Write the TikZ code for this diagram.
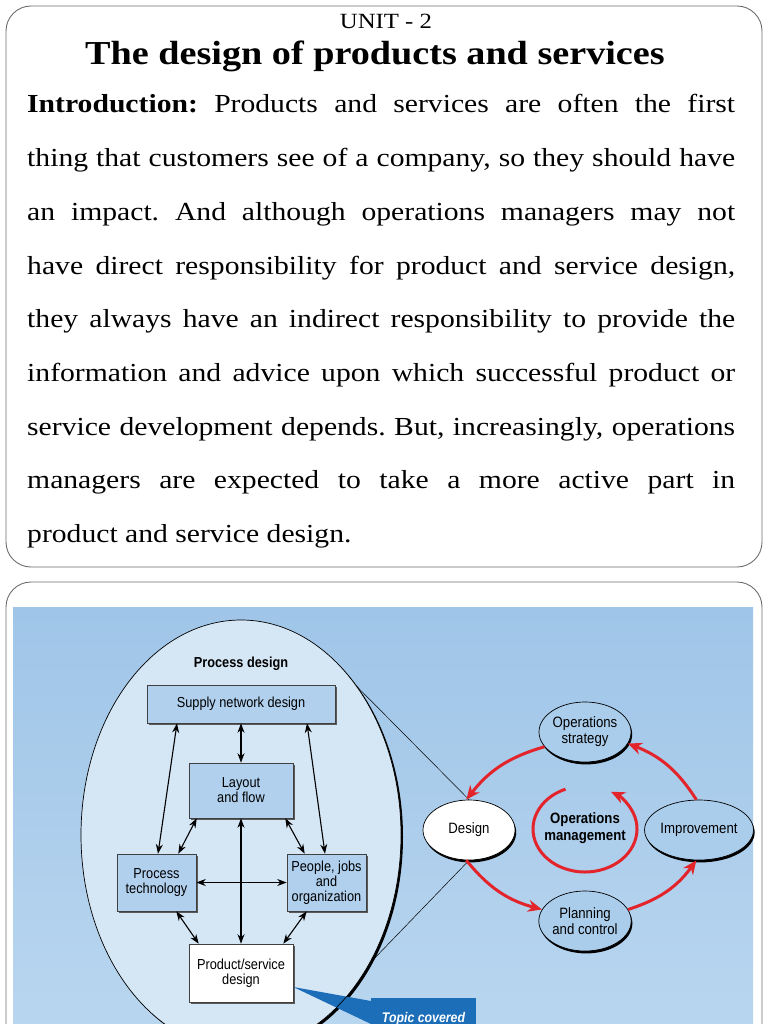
\documentclass[tikz,border=0pt]{standalone}
\usepackage{fontspec}
\setmainfont{Liberation Serif}[FakeStretch=1.14]
\newfontfamily\diag{Liberation Sans}[FakeStretch=0.88]
\usetikzlibrary{shapes.geometric,arrows.meta,calc,shadows}
\definecolor{bgtop}{HTML}{9FC5E8}
\definecolor{bgbot}{HTML}{B9D6EF}
\definecolor{ovalc}{HTML}{D5E6F5}
\definecolor{boxc}{HTML}{B0D0EE}
\definecolor{cycc}{HTML}{ABCDEC}
\definecolor{redc}{HTML}{E3242B}
\definecolor{callc}{HTML}{1D6EB9}
\definecolor{framec}{HTML}{6E6E6E}
\frenchspacing
\tikzset{
  frame/.style={draw=framec, line width=0.9pt, rounded corners=25pt},
  bodyline/.style={anchor=base west, inner sep=0pt, font=\fontsize{26}{30}\selectfont},
  pbox/.style={draw=black!75, line width=0.6pt, fill=boxc, inner sep=0pt, align=center,
    font=\diag\fontsize{14.5}{15}\selectfont,
    drop shadow={shadow xshift=1.8pt, shadow yshift=-1.8pt, fill=black!65, opacity=1}},
  darr/.style={{Stealth[length=9.5pt,width=7pt]}-{Stealth[length=9.5pt,width=7pt]}, line width=1.1pt},
  cyc/.style={ellipse, draw, line width=0.7pt, fill=cycc, minimum width=92pt, minimum height=60pt,
    inner sep=0pt, align=center, font=\diag\fontsize{15}{16}\selectfont,
    drop shadow={shadow xshift=1.2pt, shadow yshift=-2.4pt, fill=black, opacity=1}},
  redarr/.style={draw=redc, line width=3pt, -{Stealth[length=14pt,width=12pt]}, color=redc},
}
\begin{document}
\begin{tikzpicture}[x=1pt,y=1pt]
\clip (0,0) rectangle (768,-1024);
\fill[white] (0,0) rectangle (768,-1024);
% frames
\draw[frame] (6,-6) rectangle (762,-567);
\draw[frame] (6,-582) rectangle (762,-1100);
% heading
\node[anchor=base, inner sep=0pt, font=\fontsize{21.7}{24}\selectfont] (unit) at (386,-29) {UNIT - 2};
\node[anchor=base, inner sep=0pt, font=\fontsize{33.5}{40}\selectfont\bfseries] (title) at (375,-65) {The design of products and services};
% body
\node[bodyline] (l1) at (27,-113) {\makebox[708pt][s]{\textbf{Introduction:} Products and services are often the first}};
\node[bodyline] (l2) at (27,-166.7) {\makebox[708pt][s]{thing that customers see of a company, so they should have}};
\node[bodyline] (l3) at (27,-220.4) {\makebox[708pt][s]{an impact. And although operations managers may not}};
\node[bodyline] (l4) at (27,-274.1) {\makebox[708pt][s]{have direct responsibility for product and service design,}};
\node[bodyline] (l5) at (27,-327.8) {\makebox[708pt][s]{they always have an indirect responsibility to provide the}};
\node[bodyline] (l6) at (27,-381.5) {\makebox[708pt][s]{information and advice upon which successful product or}};
\node[bodyline] (l7) at (27,-435.2) {\makebox[708pt][s]{service development depends. But, increasingly, operations}};
\node[bodyline] (l8) at (27,-488.9) {\makebox[708pt][s]{managers are expected to take a more active part in}};
\node[bodyline] (l9) at (27,-542.6) {product and service design.};
% diagram background
\shade[top color=bgtop, bottom color=bgbot] (13,-607) rectangle (753,-1030);
% oval
\fill[black] (243,-837) ellipse [x radius=160pt, y radius=215pt];
\node[ellipse, fill=ovalc, minimum width=320pt, minimum height=430pt, inner sep=0pt] (oval) at (241,-835) {};
\node[font=\diag\bfseries\fontsize{14.5}{15}\selectfont] (pdes) at (241,-664) {Process design};
% boxes
\node[pbox, minimum width=188pt, minimum height=38pt] (sup) at (241,-704) {Supply network design};
\node[pbox, minimum width=104pt, minimum height=55pt] (lay) at (241,-790.5) {Layout\\and flow};
\node[pbox, minimum width=79pt, minimum height=57pt] (pt) at (156.5,-882.5) {Process\\technology};
\node[pbox, minimum width=79pt, minimum height=57pt] (pj) at (326.5,-882.5) {People, jobs\\and\\organization};
\node[pbox, fill=white, minimum width=104pt, minimum height=58pt] (pd) at (241,-973) {Product/service\\design};
% box arrows
\draw[darr] (sup.south) -- (lay.north);
\draw[darr] ([xshift=-64pt]sup.south) -- ([xshift=1.5pt]pt.north);
\draw[darr] ([xshift=66pt]sup.south) -- ([xshift=-1.5pt]pj.north);
\draw[darr] ([xshift=8pt]lay.south west) -- ([xshift=-18pt]pt.north east);
\draw[darr] ([xshift=-8pt]lay.south east) -- ([xshift=18pt]pj.north west);
\draw[darr] (lay.south) -- (pd.north);
\draw[darr] (pt.east) -- (pj.west);
\draw[darr] ([xshift=-20pt]pt.south east) -- ([xshift=10pt]pd.north west);
\draw[darr] ([xshift=20pt]pj.south west) -- ([xshift=-10pt]pd.north east);
% cycle
\node[cyc] (os) at (585,-732) {Operations\\strategy};
\node[cyc, fill=white] (de) at (469,-830) {Design};
\node[cyc] (im) at (699,-830) {Improvement};
\node[cyc] (pc) at (585,-921) {Planning\\and control};
\node[align=center, font=\diag\bfseries\fontsize{15}{17}\selectfont] (om) at (585,-828) {Operations\\management};
% thin zoom lines
\draw[line width=0.5pt] (oval.52.6) -- (de.north);
\draw[line width=0.5pt] (oval.-45.4) -- (de.south);
% callout
\node[fill=callc, minimum width=105pt, minimum height=40pt, anchor=north west, inner sep=0pt] (tc) at (371,-998) {};
\fill[callc] ([yshift=-14pt]pd.east) -- ([yshift=-3pt]tc.north west) -- ([yshift=-26pt]tc.north west) -- cycle;
\node[anchor=base, inner sep=0pt, text=white, font=\diag\bfseries\itshape\fontsize{14}{15}\selectfont] (tct) at (423.5,-1022) {Topic covered};
% oval outline on top
\draw[line width=0.7pt] (oval.center) ellipse [x radius=160pt, y radius=215pt];
% red arrows
\draw[redarr] (os.200) to[bend right=18] (de.95);
\draw[redarr] (im.95) to[bend right=18] (os.-15);
\draw[redarr] (de.-95) to[bend right=18] (pc.165);
\draw[redarr] (pc.15) to[bend right=18] (im.-95);
\draw[redarr] ([shift={(112:52pt and 43pt)}]585,-829) arc[start angle=112, end angle=420, x radius=52pt, y radius=43pt];
\end{tikzpicture}
\end{document}
